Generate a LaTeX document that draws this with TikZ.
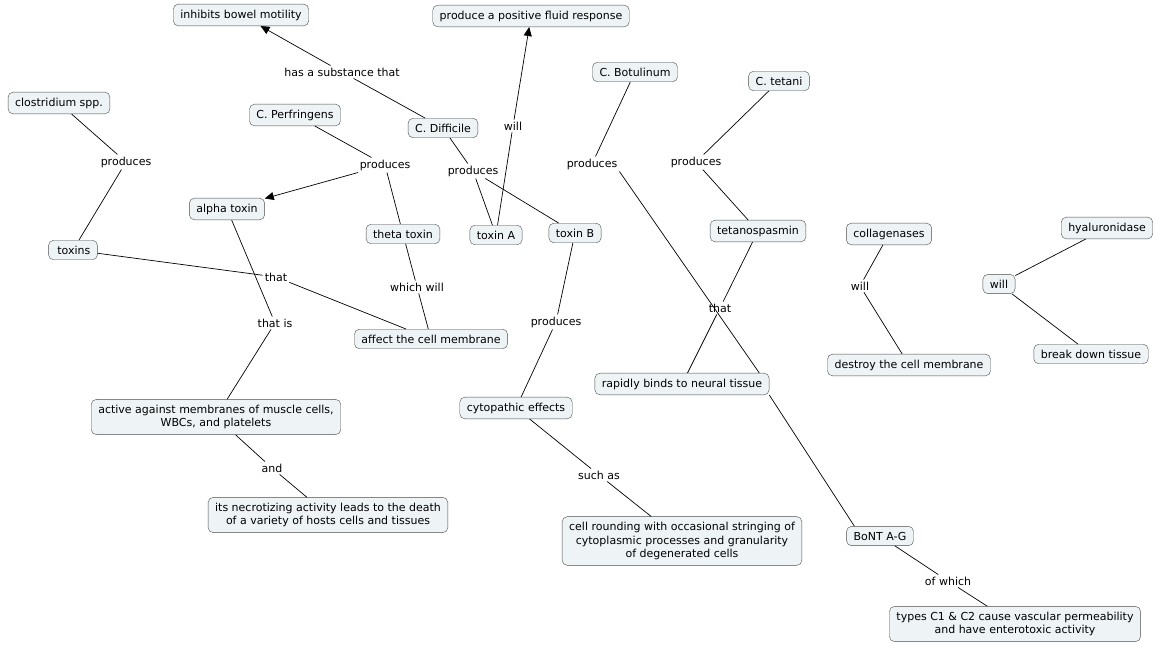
\documentclass[tikz,border=0pt]{standalone}
\usepackage{fontspec}
\setmainfont{DejaVu Sans}
\usetikzlibrary{arrows.meta}
\definecolor{boxfill}{HTML}{EEF3F6}
\begin{document}
\begin{tikzpicture}[x=1pt,y=-1pt,
  box/.style={draw=black!70,fill=boxfill,rounded corners=5pt,font=\fontsize{11}{13.5}\selectfont,inner xsep=7pt,inner ysep=5.5pt,align=center},
  lab/.style={font=\fontsize{11}{13.5}\selectfont,inner sep=2pt},
  ln/.style={draw,line width=0.7pt},
  ar/.style={ln,-{Triangle[length=9pt,width=8pt]}}]
\useasboundingbox (0,0) rectangle (1159,648);
\node[box] (inh) at (241,15) {inhibits bowel motility};
\node[box] (pfr) at (531,16) {produce a positive fluid response};
\node[box] (clo) at (59,103) {clostridium spp.};
\node[box] (cpe) at (295,115) {C. Perfringens};
\node[box] (cdi) at (443,128) {C. Difficile};
\node[box] (cbo) at (635,72) {C. Botulinum};
\node[box] (cte) at (779,81) {C. tetani};
\node[box] (alp) at (227,209) {alpha toxin};
\node[box] (tox) at (73,250) {\,toxins};
\node[box] (the) at (403,234) {theta toxin};
\node[box] (ta) at (496,235) {toxin A};
\node[box] (tb) at (575,233) {toxin B};
\node[box] (tet) at (758,231) {tetanospasmin};
\node[box] (col) at (889,234) {collagenases};
\node[box] (hya) at (1107,228) {hyaluronidase};
\node[box] (wil) at (999,284) {will};
\node[box] (aff) at (431,339) {affect the cell membrane};
\node[box] (des) at (909,365) {destroy the cell membrane};
\node[box] (brk) at (1091,354) {break down tissue};
\node[box] (rap) at (682,384) {rapidly binds to neural tissue};
\node[box] (act) at (216,417) {active against membranes of muscle cells,\\WBCs, and platelets};
\node[box] (cyt) at (516,408) {cytopathic effects};
\node[box] (nec) at (328,515) {its necrotizing activity leads to the death\\of a variety of hosts cells and tissues};
\node[box] (cel) at (682,541) {cell rounding with occasional stringing of\\cytoplasmic processes and granularity\\of degenerated cells};
\node[box] (bon) at (880,536) {BoNT A-G};
\node[box] (typ) at (1015,624) {types C1 \& C2 cause vascular permeability\\and have enterotoxic activity};

\node[lab] (l1) at (342,72) {has a substance that};
\node[lab] (l2) at (513,126) {will};
\node[lab] (l3) at (126,162) {produces};
\node[lab] (l4) at (385,165) {produces};
\node[lab] (l5) at (473,171) {produces};
\node[lab] (l6) at (592,164) {produces};
\node[lab] (l7) at (696,162) {produces};
\node[lab] (l8) at (276,277) {that};
\node[lab] (l9) at (417,287) {which will};
\node[lab] (l10) at (275,323) {that is};
\node[lab] (l11) at (556,322) {produces};
\node[lab] (l12) at (720,308) {that};
\node[lab] (l13) at (860,286) {will};
\node[lab] (l14) at (272,468) {and};
\node[lab] (l15) at (599,475) {such as};
\node[lab] (l16) at (948,581) {of which};

\draw[ln] (cdi) -- (l1); \draw[ar] (l1) -- (inh);
\draw[ln] (ta) -- (l2); \draw[ar] (l2) -- (pfr);
\draw[ln] (clo) -- (l3); \draw[ln] (l3) -- (tox);
\draw[ln] (cpe) -- (l4); \draw[ar] (l4) -- (alp); \draw[ln] (l4) -- (the);
\draw[ln] (cdi) -- (l5); \draw[ln] (l5) -- (ta); \draw[ln] (l5) -- (tb);
\draw[ln] (cbo) -- (l6);
\draw[ln] (cte) -- (l7); \draw[ln] (l7) -- (tet);
\draw[ln] (tox) -- (l8); \draw[ln] (l8) -- (aff);
\draw[ln] (the) -- (l9); \draw[ln] (l9) -- (aff);
\draw[ln] (alp) -- (l10); \draw[ln] (l10) -- (act);
\draw[ln] (tb) -- (l11); \draw[ln] (l11) -- (cyt);
\draw[ln] (tet) -- (l12); \draw[ln] (l12) -- (rap);
\draw[ln] (col) -- (l13); \draw[ln] (l13) -- (des);
\draw[ln] (hya) -- (wil); \draw[ln] (wil) -- (brk);
\draw[ln] (act) -- (l14); \draw[ln] (l14) -- (nec);
\draw[ln] (cyt) -- (l15); \draw[ln] (l15) -- (cel);
\draw[ln] (bon) -- (l16); \draw[ln] (l16) -- (typ);
\draw[ln] (l6.south east) -- ([xshift=-10pt]rap.north east);
\draw[ln] (rap.south east) -- ([xshift=8pt]bon.north west);
\end{tikzpicture}
\end{document}
